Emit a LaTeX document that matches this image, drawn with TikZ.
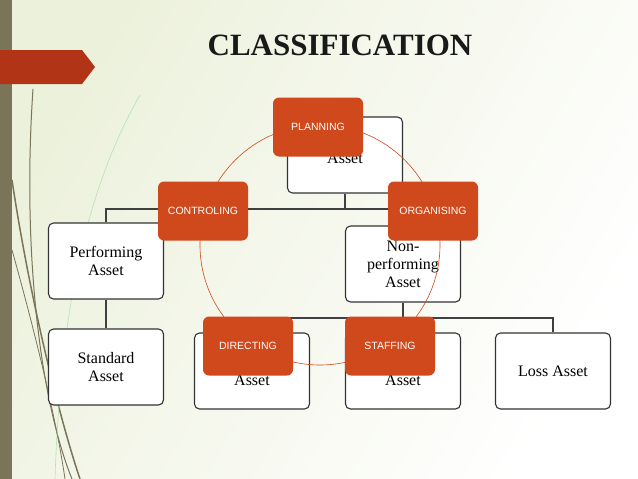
\documentclass[tikz,border=0pt]{standalone}
\usepackage{fontspec}
\setmainfont{Liberation Serif}
\setsansfont{Liberation Sans}
\definecolor{fnc}{HTML}{D0491C}
\definecolor{arrc}{HTML}{B23417}
\definecolor{barc}{HTML}{7A7458}
\definecolor{bgc}{HTML}{ECF1DC}
\begin{document}
\begin{tikzpicture}[x=1pt,y=-1pt,
  asset/.style={draw=black!80,line width=1.1pt,fill=white,rounded corners=5pt,minimum width=115pt,minimum height=76pt,align=center,font=\fontsize{16}{18}\selectfont,inner sep=2pt},
  fn/.style={fill=fnc,draw=none,rounded corners=6pt,minimum width=90pt,minimum height=59pt,text=white,font=\sffamily\fontsize{10.5}{12}\selectfont},
  link/.style={draw=black!75,line width=1.2pt},
  cyc/.style={draw=fnc,line width=0.6pt}]
\useasboundingbox (0,0) rectangle (638,479);
\shade[left color=bgc,right color=white,shading angle=60] (0,0) rectangle (638,479);
\fill[barc] (0,0) rectangle (12,479);
\fill[arrc] (0,50) -- (82,50) -- (95,67) -- (82,84) -- (0,84) -- cycle;
\draw[barc,line width=1pt] (33,89) .. controls (22,250) and (40,400) .. (72,479);
\draw[barc,line width=1.5pt] (12,180) .. controls (30,300) and (60,420) .. (80,479);
\draw[barc,line width=0.8pt] (12,250) .. controls (40,350) and (58,430) .. (65,479);
\draw[green!40!gray!40,line width=0.6pt] (140,95) .. controls (80,200) and (60,330) .. (55,479);
\node[font=\bfseries\fontsize{31}{31}\selectfont,text=black!90] (title) at (340,45) {CLASSIFICATION};
\node[asset,text depth=0pt] (top) at (345,155) {\raisebox{-6pt}{Asset}};
\node[asset] (perf) at (106,261) {Performing\\Asset};
\node[asset] (nonp) at (403,264) {Non-\\performing\\Asset};
\node[asset] (std) at (106,367) {Standard\\Asset};
\node[asset] (sub) at (252,371) {Substandard\\Asset};
\node[asset] (doubt) at (403,371) {Doubtful\\Asset};
\node[asset] (loss) at (553,371) {Loss Asset};
\coordinate (j1) at (345,209);
\coordinate (j2) at (403,318);
\draw[link] (top.south) -- (j1);
\draw[link] (j1) -| (perf.north);
\draw[link] (j1) -| (nonp.north);
\draw[link] (perf.south) -- (std.north);
\draw[link] (nonp.south) -- (j2);
\draw[link] (j2) -| (sub.north);
\draw[link] (j2) -- (doubt.north);
\draw[link] (j2) -| (loss.north);
\coordinate (c) at (320,245);
\draw[cyc] (c) circle (120);
\node[fn] (plan) at (318,127) {PLANNING};
\node[fn] (org) at (433,211) {ORGANISING};
\node[fn] (staff) at (390,346) {STAFFING};
\node[fn] (dir) at (248,346) {DIRECTING};
\node[fn] (ctrl) at (203,211) {CONTROLING};
\end{tikzpicture}
\end{document}
